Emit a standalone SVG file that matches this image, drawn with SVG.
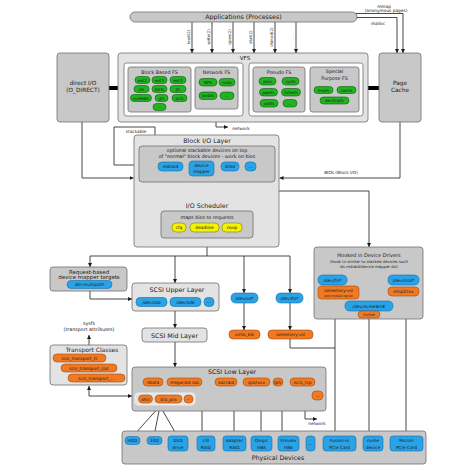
<svg xmlns="http://www.w3.org/2000/svg" width="474" height="474" viewBox="0 0 474 474">
<style>
text{font-family:"DejaVu Sans","Liberation Sans",sans-serif;fill:#1a1a1a;text-anchor:middle}
.g1{fill:#c8c8c8;stroke:#6e6e6e;stroke-width:0.8}
.g2{fill:#e3e3e3;stroke:#6e6e6e;stroke-width:0.8}
.w{fill:#ffffff;stroke:#6e6e6e;stroke-width:0.8}
.pg{fill:#22b322;stroke:#0b5e0b;stroke-width:0.6}
.pb{fill:#2aa2e6;stroke:#1270ad;stroke-width:0.6}
.po{fill:#f07a24;stroke:#a84a0c;stroke-width:0.6}
.py{fill:#f4f400;stroke:#7d7d00;stroke-width:0.6}
.c{fill:none;stroke:#333;stroke-width:0.9}
.t1{font-size:6.3px}
.t2{font-size:4.8px}
.tp{font-size:4.3px}
.tg{font-size:4px}
.ts{font-size:4px}
.it{font-style:italic}
</style>
<defs>
<marker id="a" viewBox="0 0 6 6" refX="6" refY="3" markerWidth="4" markerHeight="4" orient="auto-start-reverse" markerUnits="userSpaceOnUse"><path d="M0,0 L6,3 L0,6 z" fill="#1a1a1a"/></marker>
</defs>

<g id="connectors">
<g class="c" marker-end="url(#a)">
<path d="M192,22 V53"/><path d="M212,22 V53"/><path d="M233,22 V53"/><path d="M254,22 V53"/><path d="M275,22 V53"/><path d="M296,22 V53"/>
<path d="M355,13.5 H403 V53"/><path d="M355,17.5 H397 V53"/>
<path d="M216,122 V127 H228"/>
<path d="M139,165 H114 V127 H155 V146"/>
<path d="M82,122 V178 H133.5"/>
<path d="M400,122 V178 H279.5"/>
<path d="M207,182 V202"/>
<path d="M207,191 H369 V247"/>
<path d="M90,256 V267"/><path d="M175,256 V283"/><path d="M244,256 V293"/><path d="M290,256 V293"/>
<path d="M90,291 V299 H132"/>
<path d="M175,311 V328"/><path d="M175,342 V367"/>
<path d="M244,303 V330"/><path d="M290,303 V330"/>
<path d="M89,345 V335"/>
<path d="M89,386 V396 H132" marker-start="url(#a)"/>
<path d="M153,386 V393"/>
<path d="M160,406 L133,436"/><path d="M160,406 L154,436"/><path d="M160,406 L177,435.5"/>
<path d="M202,386 V436"/><path d="M234,386 V436"/><path d="M261,386 V436"/><path d="M282,386 V436"/>
<path d="M305,386 V419 H317"/>
<path d="M335,299 V436"/><path d="M369,318 V436"/><path d="M406,296 V436"/>
</g>
<path class="c" d="M207,247 V256 M90,256 H290 M290,339 V348 H335"/>
<rect x="109" y="86" width="9" height="4" fill="#000"/>
<rect x="368" y="86" width="11" height="4" fill="#000"/>
<g class="ts">
<text transform="translate(189.5,37) rotate(-90)">read(2)</text>
<text transform="translate(209.5,37) rotate(-90)">write(2)</text>
<text transform="translate(230.5,37) rotate(-90)">open(2)</text>
<text transform="translate(251.5,37) rotate(-90)">stat(2)</text>
<text transform="translate(272.5,37) rotate(-90)">chmod(2)</text>
<text transform="translate(293.5,37) rotate(-90)">...</text>
</g>
<text class="tp" x="384" y="8">mmap</text>
<text class="tp" x="386" y="12.3">(anonymous pages)</text>
<text class="tp" x="378" y="24.5">malloc</text>
<text class="tp" x="241" y="129.5">network</text>
<text class="tp" x="136" y="132.5">stackable</text>
<text class="tp" x="341" y="173.5">BIOs (Block I/O)</text>
<text class="t2" x="89" y="324.5">sysfs</text>
<text class="t2" x="89" y="330.5">(transport attributes)</text>
<text class="tp" x="317" y="425">network</text>
</g>

<g id="applications">
<rect class="g1" x="130" y="12" width="227" height="10" rx="5"/>
<text class="t1" x="243.5" y="19.3">Applications (Processes)</text>
</g>

<g id="direct-io">
<rect class="g1" x="57" y="53" width="52" height="69" rx="3"/>
<text x="83" y="85" font-size="5.8">direct I/O</text>
<text x="83" y="92" font-size="5.8">(O_DIRECT)</text>
</g>

<g id="page-cache">
<rect class="g1" x="379" y="53" width="42" height="69" rx="3"/>
<text x="400" y="85" font-size="5.8">Page</text>
<text x="400" y="92" font-size="5.8">Cache</text>
</g>

<g id="vfs">
<rect class="g2" x="118" y="53" width="250" height="69" rx="3"/>
<text x="245" y="59.5" font-size="5.6">VFS</text>
<rect class="w" x="124" y="63" width="119" height="53" rx="2.5"/>
<rect class="w" x="249" y="63" width="114" height="53" rx="2.5"/>
<g id="block-based-fs">
<rect class="g1" x="128" y="67" width="63" height="45" rx="2.5" stroke="none"/>
<text class="t2" x="159.5" y="74">Block Based FS</text>
<rect class="pg" x="135" y="76.5" width="15" height="7" rx="3.5"/><text class="tg" x="142.5" y="81.5">ext2</text>
<rect class="pg" x="152" y="76.5" width="15" height="7" rx="3.5"/><text class="tg" x="159.5" y="81.5">ext3</text>
<rect class="pg" x="170" y="76.5" width="16" height="7" rx="3.5"/><text class="tg" x="178" y="81.5">ext4</text>
<rect class="pg" x="134" y="85.5" width="15" height="7" rx="3.5"/><text class="tg" x="141.5" y="90.5">xfs</text>
<rect class="pg" x="152" y="85.5" width="15" height="7" rx="3.5"/><text class="tg" x="159.5" y="90.5">btrfs</text>
<rect class="pg" x="170" y="85.5" width="16" height="7" rx="3.5"/><text class="tg" x="178" y="90.5">jfs</text>
<rect class="pg" x="130.5" y="94.5" width="21" height="7" rx="3.5"/><text class="tg" x="141" y="99.5">iso9660</text>
<rect class="pg" x="155" y="94.5" width="13" height="7" rx="3.5"/><text class="tg" x="161.5" y="99.5">gfs</text>
<rect class="pg" x="172" y="94.5" width="15" height="7" rx="3.5"/><text class="tg" x="179.5" y="99.5">ocfs</text>
<rect class="pg" x="153" y="103.5" width="13" height="7" rx="3.5"/><text class="tg" x="159.5" y="108">...</text>
</g>
<g id="network-fs">
<rect class="g1" x="195" y="67" width="43" height="42" rx="2.5" stroke="none"/>
<text class="t2" x="216.5" y="74">Network FS</text>
<rect class="pg" x="199" y="78.5" width="18" height="7.5" rx="3.7"/><text class="tg" x="208" y="83.8">NFS</text>
<rect class="pg" x="219" y="78.5" width="16" height="7.5" rx="3.7"/><text class="tg" x="227" y="83.8">coda</text>
<rect class="pg" x="199" y="92" width="18" height="7.5" rx="3.7"/><text class="tg" x="208" y="97.3">smbfs</text>
<rect class="pg" x="220" y="92" width="14" height="7.5" rx="3.7"/><text class="tg" x="227" y="97">...</text>
</g>
<g id="pseudo-fs">
<rect class="g1" x="253" y="67" width="52" height="45" rx="2.5" stroke="none"/>
<text class="t2" x="279" y="74">Pseudo FS</text>
<rect class="pg" x="259" y="77.5" width="17" height="7.5" rx="3.7"/><text class="tg" x="267.5" y="82.8">proc</text>
<rect class="pg" x="282" y="77.5" width="17" height="7.5" rx="3.7"/><text class="tg" x="290.5" y="82.8">sysfs</text>
<rect class="pg" x="259.5" y="88.5" width="18" height="7.5" rx="3.7"/><text class="tg" x="268.5" y="93.8">pipefs</text>
<rect class="pg" x="281.5" y="88.5" width="19" height="7.5" rx="3.7"/><text class="tg" x="291" y="93.8">futexfs</text>
<rect class="pg" x="260" y="99.5" width="18" height="7.5" rx="3.7"/><text class="tg" x="269" y="104.8">usbfs</text>
<rect class="pg" x="283" y="99.5" width="14" height="7.5" rx="3.7"/><text class="tg" x="290" y="104.5">...</text>
</g>
<g id="special-fs">
<rect class="g1" x="310" y="67" width="49" height="45" rx="2.5" stroke="none"/>
<text class="t2" x="334.5" y="73">Special</text>
<text class="t2" x="334.5" y="79.5">Purpose FS</text>
<rect class="pg" x="314" y="86.5" width="19" height="7" rx="3.5"/><text class="tg" x="323.5" y="91.5">tmpfs</text>
<rect class="pg" x="337" y="86.5" width="19" height="7" rx="3.5"/><text class="tg" x="346.5" y="91.5">ramfs</text>
<rect class="pg" x="320" y="97" width="29" height="7" rx="3.5"/><text class="tg" x="334.5" y="102">devtmpfs</text>
</g>
</g>

<g id="block-io-layer">
<rect class="g2" x="134" y="135" width="145" height="112" rx="3"/>
<text class="t1" x="207" y="142.5">Block I/O Layer</text>
<g id="stackable-devices">
<rect class="g1" x="139" y="146" width="136" height="36" rx="3"/>
<text class="t2" x="207" y="151.8">optional stackable devices on top</text>
<text class="t2" x="207" y="157.6">of "normal" block devices - work on bios</text>
<rect class="pb" x="158" y="162" width="25" height="9" rx="4"/><text class="tp" x="170.5" y="168">mdraid</text>
<rect class="pb" x="189" y="161" width="25" height="15" rx="3.5"/><text class="tp" x="201.5" y="167.3">device</text><text class="tp" x="201.5" y="172.8">mapper</text>
<rect class="pb" x="221" y="162" width="18" height="9" rx="4"/><text class="tp" x="230" y="168">drbd</text>
<rect class="pb" x="245" y="162" width="11" height="9" rx="4"/><text class="tp" x="250.5" y="167.5">...</text>
</g>
<g id="io-scheduler">
<text class="t1" x="207" y="208">I/O Scheduler</text>
<rect class="g1" x="161" y="211" width="92" height="27" rx="3"/>
<text class="t2" x="207" y="218.5">maps bios to requests</text>
<rect class="py" x="172" y="223" width="14" height="9" rx="4"/><text class="tp" x="179" y="229">cfq</text>
<rect class="py" x="190" y="223" width="29" height="9" rx="4"/><text class="tp" x="204.5" y="229">deadline</text>
<rect class="py" x="222" y="223" width="20" height="9" rx="4"/><text class="tp" x="232" y="229">noop</text>
</g>
</g>

<g id="request-based-dm">
<rect class="g1" x="50" y="267" width="77" height="24" rx="3"/>
<text x="89" y="273.8" font-size="5.4">Request-based</text>
<text x="89" y="279.4" font-size="5.4">device mapper targets</text>
<rect class="pb" x="67" y="280.5" width="45" height="8" rx="4"/><text class="tp" x="89.5" y="286">dm-multipath</text>
</g>

<g id="scsi-upper-layer">
<rect class="g2" x="132" y="283" width="87" height="28" rx="3"/>
<text class="t1" x="177" y="292.3">SCSI Upper Layer</text>
<rect class="pb" x="136" y="297.5" width="31" height="9" rx="4"/><text class="tp it" x="151.5" y="303.5">/dev/sda</text>
<rect class="pb" x="170" y="297.5" width="31" height="9" rx="4"/><text class="tp it" x="185.5" y="303.5">/dev/sdb</text>
<rect class="pb" x="204" y="297.5" width="10" height="9" rx="4"/><text class="tp" x="209" y="303">...</text>
</g>

<g id="scsi-mid-layer">
<rect class="g2" x="142" y="328" width="65" height="14" rx="3"/>
<text class="t1" x="174.5" y="337.5">SCSI Mid Layer</text>
</g>

<g id="virtio">
<rect class="pb" x="231" y="293" width="27" height="10" rx="4.5"/><text class="tp it" x="244.5" y="299.5">/dev/vd*</text>
<rect class="po" x="229" y="330" width="31" height="9" rx="4"/><text class="tp" x="244.5" y="336">virtio_blk</text>
</g>

<g id="fio">
<rect class="pb" x="276" y="293" width="27" height="10" rx="4.5"/><text class="tp it" x="289.5" y="299.5">/dev/fio*</text>
<rect class="po" x="268" y="330" width="45" height="9" rx="4"/><text class="tp" x="290.5" y="336">iomemory-vsl</text>
</g>

<g id="hooked-drivers">
<rect class="g1" x="314" y="247" width="109" height="72" rx="3"/>
<text x="369" y="257" font-size="5">Hooked in Device Drivers</text>
<text x="369" y="262.8" font-size="3.9">(hook in similar to stacked devices such</text>
<text x="369" y="267.8" font-size="3.9">as mdraid/device mapper do)</text>
<rect class="pb" x="318" y="275" width="29" height="10" rx="4.5"/><text class="tp it" x="332.5" y="281.5">/dev/fio*</text>
<rect class="po" x="318" y="286" width="41" height="13" rx="3.5"/><text class="tp" x="338.5" y="292">iomemory-vsl</text><text x="338.5" y="297" font-size="3">with module option</text>
<rect class="pb" x="388" y="275" width="31" height="10" rx="4.5"/><text class="tp it" x="403.5" y="281.5">/dev/rssd*</text>
<rect class="po" x="388" y="287" width="31" height="9" rx="4"/><text class="tp" x="403.5" y="293">mtip32xx</text>
<rect class="pb" x="345" y="301" width="48" height="10" rx="4.5"/><text class="tp it" x="369" y="307.5">/dev/nvme#n#</text>
<rect class="po" x="358" y="311" width="22" height="7" rx="3.5"/><text x="369" y="316" font-size="4">nvme</text>
</g>

<g id="transport-classes">
<rect class="g2" x="50" y="345" width="77" height="40" rx="3"/>
<text x="92" y="351.8" font-size="6">Transport Classes</text>
<rect class="po" x="53" y="354" width="53" height="8" rx="4"/><text class="tp" x="79.5" y="359.6">scsi_transport_fc</text>
<rect class="po" x="61" y="364" width="56" height="8" rx="4"/><text class="tp" x="89" y="369.6">scsi_transport_sas</text>
<rect class="po" x="68" y="374" width="57" height="8" rx="4"/><text class="tp" x="96.5" y="379.6">scsi_transport_...</text>
</g>

<g id="scsi-low-layer">
<rect class="g1" x="132" y="367" width="194" height="44" rx="3"/>
<text class="t1" x="232" y="374.3">SCSI Low Layer</text>
<rect class="po" x="143" y="378" width="20" height="8" rx="4"/><text class="tp" x="153" y="383.6">libata</text>
<rect class="po" x="167" y="378" width="35" height="8" rx="4"/><text class="tp" x="184.5" y="383.6">megaraid sas</text>
<rect class="po" x="215" y="378" width="22" height="8" rx="4"/><text class="tp" x="226" y="383.6">aacraid</text>
<rect class="po" x="243" y="378" width="27" height="8" rx="4"/><text class="tp" x="256.5" y="383.6">qla2xxx</text>
<rect class="po" x="273" y="378" width="10" height="8" rx="4"/><text class="tp" x="278" y="383.6">lpfc</text>
<rect class="po" x="290" y="378" width="25" height="8" rx="4"/><text class="tp" x="302.5" y="383.6">iscsi_tcp</text>
<rect class="po" x="312" y="391" width="11" height="9" rx="4"/><text class="tp" x="317.5" y="396.5">...</text>
<rect fill="#e3e3e3" stroke="#f4f4f4" stroke-width="0.8" x="135" y="393" width="60" height="12" rx="3"/>
<rect class="po" x="138.5" y="395" width="14" height="8" rx="4"/><text class="tp" x="145.5" y="400.6">ahci</text>
<rect class="po" x="155" y="395" width="27" height="8" rx="4"/><text class="tp" x="168.5" y="400.6">ata_piix</text>
<rect class="po" x="184" y="395" width="9" height="8" rx="4"/><text class="tp" x="188.5" y="400.2">...</text>
</g>

<g id="physical-devices">
<rect class="g1" x="122" y="431" width="304" height="33" rx="3"/>
<text class="t1" x="278" y="459.5">Physical Devices</text>
<rect class="pb" x="125" y="436.5" width="15" height="8" rx="3.5"/><text class="tp" x="132.5" y="442">HDD</text>
<rect class="pb" x="147" y="436.5" width="15" height="8" rx="3.5"/><text class="tp" x="154.5" y="442">SSD</text>
<g class="tp">
<rect class="pb" x="168" y="436" width="20" height="15" rx="3"/><text x="178" y="442.3">DVD</text><text x="178" y="448.5">drive</text>
<rect class="pb" x="197" y="436" width="18" height="15" rx="3"/><text x="206" y="442.3">LSI</text><text x="206" y="448.5">RAID</text>
<rect class="pb" x="223" y="436" width="23" height="15" rx="3"/><text x="234.5" y="442.3">Adaptec</text><text x="234.5" y="448.5">RAID</text>
<rect class="pb" x="251" y="436" width="21" height="15" rx="3"/><text x="261.5" y="442.3">Qlogic</text><text x="261.5" y="448.5">HBA</text>
<rect class="pb" x="278" y="436" width="21" height="15" rx="3"/><text x="288.5" y="442.3">Emulex</text><text x="288.5" y="448.5">HBA</text>
<rect class="pb" x="306" y="436" width="9" height="15" rx="3"/><text x="310.5" y="445">...</text>
<rect class="pb" x="323" y="436" width="33" height="15" rx="3"/><text x="339.5" y="442.3">Fusion-io</text><text x="339.5" y="448.5">PCIe Card</text>
<rect class="pb" x="363" y="436" width="20" height="15" rx="3"/><text x="373" y="442.3">nvme</text><text x="373" y="448.5">device</text>
<rect class="pb" x="390" y="436" width="33" height="15" rx="3"/><text x="406.5" y="442.3">Micron</text><text x="406.5" y="448.5">PCIe Card</text>
</g>
</g>
</svg>
